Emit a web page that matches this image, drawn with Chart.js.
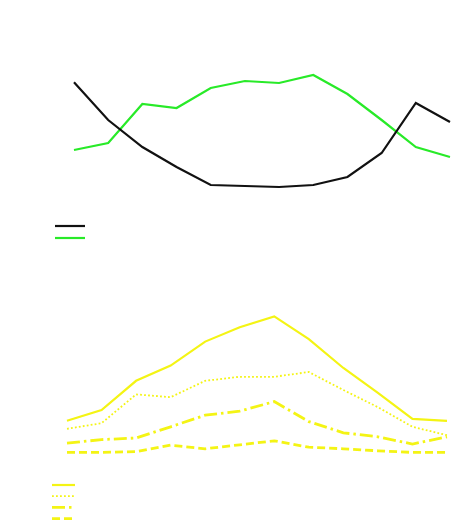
<!DOCTYPE html>
<html>
<head>
<meta charset="utf-8">
<script src="https://cdn.jsdelivr.net/npm/chart.js@4"></script>
<style>
  html, body { margin: 0; padding: 0; background: #fff; }
  #wrap { position: relative; width: 474px; height: 528px; }
  .panel { position: absolute; left: 0; width: 474px; height: 264px; }
</style>
</head>
<body>
<div id="wrap">
  <div class="panel" style="top:0"><canvas id="topChart"></canvas></div>
  <div class="panel" style="top:264px"><canvas id="bottomChart"></canvas></div>
</div>
<script>
// months
var categories = ['1', '2', '3', '4', '5', '6', '7', '8', '9', '10', '11', '12'];

// top panel
var blackSeries = [58.9, 40, 26.5, 16.5, 7.5, 7, 6.5, 7.5, 11.5, 23.5, 48.5, 39];
var greenSeries = [25, 28.5, 48, 46, 56, 59.5, 58.5, 62.5, 53, 40, 26.5, 21.5];

// bottom panel
var solidSeries = [9.8, 12.5, 19.8, 23.6, 29.6, 33.2, 35.9, 30.2, 23, 16.8, 10.3, 9.8];
var dottedSeries = [7.8, 9.2, 16.4, 15.7, 19.8, 20.8, 20.8, 22, 17.5, 13.2, 8.3, 6.2];
var dashDotSeries = [4.2, 5.1, 5.5, 8.3, 11.2, 12.2, 14.6, 9.6, 6.8, 5.8, 4.0, 5.8];
var dashedSeries = [1.9, 1.9, 2.1, 3.7, 2.8, 3.8, 4.8, 3.2, 2.8, 2.3, 1.9, 1.9];

// small line-sample legend stacked under the plot
var lineLegend = {
  id: 'lineLegend',
  afterDraw: function (chart, args, opts) {
    var ctx = chart.ctx;
    chart.data.datasets.forEach(function (ds, i) {
      var y = opts.top + i * opts.step;
      ctx.save();
      ctx.strokeStyle = ds.borderColor;
      ctx.lineWidth = ds.borderWidth;
      ctx.setLineDash(ds.borderDash || []);
      ctx.beginPath();
      ctx.moveTo(opts.left, y);
      ctx.lineTo(opts.left + opts.width, y);
      ctx.stroke();
      ctx.restore();
    });
  }
};

function baseOptions(pad, yMin, yMax, legendOpts) {
  return {
    responsive: false,
    animation: false,
    layout: { padding: pad },
    elements: { point: { radius: 0 }, line: { tension: 0 } },
    plugins: {
      legend: { display: false },
      tooltip: { enabled: false },
      lineLegend: legendOpts
    },
    scales: {
      x: { display: false, offset: false },
      y: { display: false, min: yMin, max: yMax }
    }
  };
}

function makeChart(id, datasets, options) {
  var canvas = document.getElementById(id);
  canvas.width = 474;
  canvas.height = 264;
  return new Chart(canvas.getContext('2d'), {
    type: 'line',
    data: { labels: categories, datasets: datasets },
    options: options,
    plugins: [lineLegend]
  });
}

makeChart('topChart', [
  { data: blackSeries, borderColor: '#111111', borderWidth: 2.2, fill: false },
  { data: greenSeries, borderColor: '#28ea28', borderWidth: 2.2, fill: false }
], baseOptions({ left: 74, right: 24, top: 60, bottom: 64 }, 0, 70,
  { left: 55, width: 30, top: 226, step: 12 }));

makeChart('bottomChart', [
  { data: solidSeries, borderColor: '#f4f414', borderWidth: 2.2, fill: false },
  { data: dottedSeries, borderColor: '#f4f414', borderWidth: 1.8, borderDash: [1.8, 2.2], fill: false },
  { data: dashDotSeries, borderColor: '#f4f414', borderWidth: 2.8, borderDash: [13, 4, 2.5, 4], fill: false },
  { data: dashedSeries, borderColor: '#f4f414', borderWidth: 2.8, borderDash: [8, 4], fill: false }
], baseOptions({ left: 67, right: 27, top: 36, bottom: 68 }, 0, 40,
  { left: 52, width: 23, top: 221, step: 11.2 }));
</script>
</body>
</html>
